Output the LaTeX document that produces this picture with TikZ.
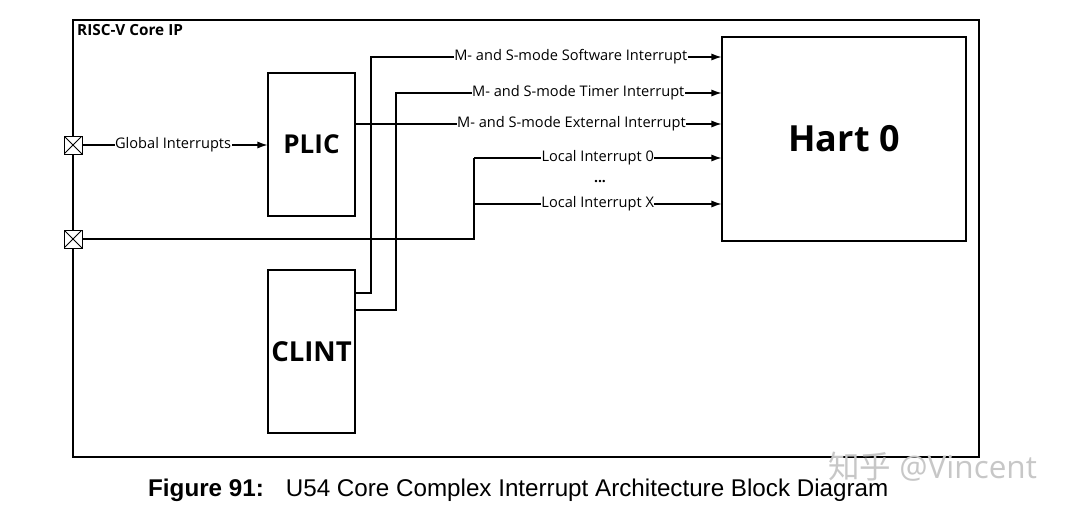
\documentclass[tikz,border=0pt]{standalone}
\usepackage{fontspec}
\setmainfont{Open Sans}
\newfontfamily\capfont{Liberation Sans}
\newfontfamily\cjkf{Noto Sans CJK SC}
\usetikzlibrary{arrows.meta}
\begin{document}
\begin{tikzpicture}[x=1pt,y=-1pt,
  blk/.style={draw,line width=1.1pt,inner sep=0},
  wire/.style={line width=1.1pt},
  arr/.style={wire,-{Latex[length=10pt,width=7pt]}},
  lbl/.style={fill=white,inner sep=0.5pt,font=\fontsize{14.6}{16}\selectfont},
  port/.style={draw,line width=0.9pt,minimum size=18pt,inner sep=0,path picture={\draw (path picture bounding box.south west)--(path picture bounding box.north east) (path picture bounding box.north west)--(path picture bounding box.south east);}}]
\useasboundingbox (0,0) rectangle (1072,512);
\draw[line width=1.1pt] (73,20) rectangle (979,457);
\node[anchor=north west,inner sep=0,font=\fontsize{15.3}{17}\selectfont\bfseries] (title) at (77,24) {RISC-V Core IP};
\node[blk,minimum width=87pt,minimum height=143pt] (plic) at (311.5,144.5) {\fontsize{26}{30}\selectfont\bfseries PLIC};
\node[blk,minimum width=87pt,minimum height=163pt] (clint) at (311.5,351.5) {\fontsize{27.5}{30}\selectfont\bfseries CLINT};
\node[blk,minimum width=244pt,minimum height=204pt] (hart) at (844,139) {\fontsize{36}{40}\selectfont\bfseries Hart 0};
\node[port,fill=white] (p1) at (73,145) {};
\node[port,fill=white] (p2) at (73,239) {};
\coordinate (sw1) at (355,293); \coordinate (sw2) at (371,293); \coordinate (sw3) at (371,57);
\coordinate (tm1) at (355,310); \coordinate (tm2) at (396,310); \coordinate (tm3) at (396,93);
\coordinate (lc1) at (474,239); \coordinate (lc0) at (474,158); \coordinate (lcx) at (474,204);
\draw[arr] (p1.east) -- node[lbl,pos=0.49]{Global Interrupts} (plic.west|-p1);
\draw[arr] (sw1) -- (sw2) -- (sw3) -- node[lbl,pos=0.57]{M- and S-mode Software Interrupt} (hart.west|-sw3);
\draw[arr] (tm1) -- (tm2) -- (tm3) -- node[lbl,pos=0.56]{M- and S-mode Timer Interrupt} (hart.west|-tm3);
\draw[arr] (plic.east|-0,124) -- node[lbl,pos=0.59]{M- and S-mode External Interrupt} (hart.west|-0,124);
\draw[wire] (p2.east) -- (lc1) -- (lc0);
\draw[arr] (lc0) -- node[lbl,pos=0.5]{Local Interrupt 0} (hart.west|-lc0);
\draw[arr] (lcx) -- node[lbl,pos=0.5]{Local Interrupt X} (hart.west|-lcx);
\node[font=\fontsize{14}{16}\selectfont\bfseries] (dots) at (600,182) {...};
\node[anchor=west,inner sep=0,font=\capfont\fontsize{24.2}{27}\selectfont] (cap) at (148,490) {\textbf{Figure 91:}\hspace{22pt}U54 Core Complex Interrupt Architecture Block Diagram};
\node[anchor=west,inner sep=0,text=black!22,font=\fontsize{31.5}{34}\selectfont] (wm) at (828,467) {{\cjkf 知乎} @Vincent};
\end{tikzpicture}
\end{document}
